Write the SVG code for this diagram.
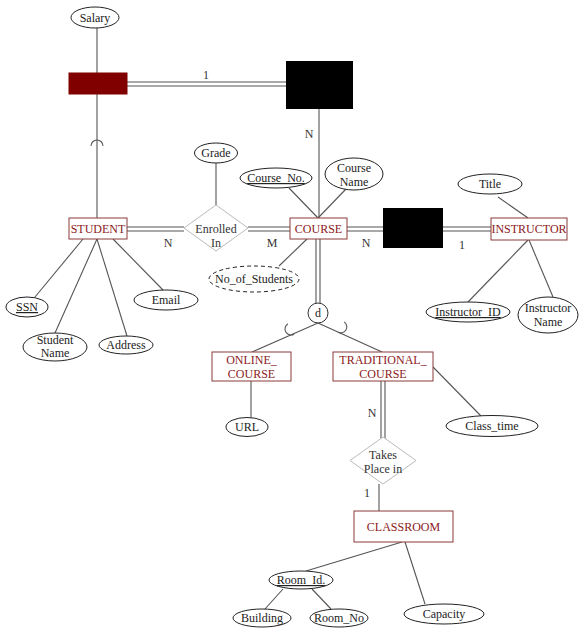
<svg xmlns="http://www.w3.org/2000/svg" width="587" height="634" viewBox="0 0 587 634">
<style>
text{font-family:"Liberation Serif","Times New Roman",serif;font-size:12px;text-anchor:middle}
.ent rect{fill:#fff;stroke:#8b3a3a;stroke-width:1}
.ent text{fill:#8b1a1a}
.att ellipse{fill:#fff;stroke:#222;stroke-width:1}
.att text{fill:#222}
.rel polygon{fill:#fff;stroke:#bbb;stroke-width:1}
.rel text{fill:#333}
.u{text-decoration:underline}
#connectors line,#connectors path{stroke:#555;stroke-width:1.1;fill:none}
.lbl{fill:#333}
</style>
<g id="connectors">
<line x1="97" y1="28" x2="97" y2="73"/>
<line x1="97" y1="94" x2="97" y2="218"/>
<path d="M91,146 A6,6 0 0 1 103,146"/>
<line x1="127" y1="82" x2="286" y2="82"/>
<line x1="127" y1="86" x2="286" y2="86"/>
<line x1="319" y1="109" x2="319" y2="218"/>
<line x1="216" y1="163" x2="216" y2="205"/>
<line x1="127" y1="227" x2="184" y2="227"/>
<line x1="127" y1="231" x2="184" y2="231"/>
<line x1="248" y1="227" x2="290" y2="227"/>
<line x1="248" y1="231" x2="290" y2="231"/>
<line x1="289" y1="188" x2="318" y2="218"/>
<line x1="346" y1="189" x2="318" y2="218"/>
<line x1="307" y1="239" x2="279" y2="266"/>
<line x1="347" y1="227" x2="383" y2="227"/>
<line x1="347" y1="231" x2="383" y2="231"/>
<line x1="443" y1="227" x2="491" y2="227"/>
<line x1="443" y1="231" x2="491" y2="231"/>
<line x1="498" y1="197" x2="528" y2="218"/>
<line x1="528" y1="240" x2="468" y2="302"/>
<line x1="529" y1="240" x2="553" y2="297"/>
<line x1="83" y1="239" x2="35" y2="297"/>
<line x1="97" y1="239" x2="55" y2="333"/>
<line x1="97" y1="239" x2="127" y2="336"/>
<line x1="113" y1="239" x2="163" y2="290"/>
<line x1="316" y1="239" x2="316" y2="304"/>
<line x1="320" y1="239" x2="320" y2="304"/>
<line x1="318" y1="323" x2="252" y2="352"/>
<line x1="318" y1="323" x2="382" y2="352"/>
<path d="M294.05,334.17 A6,6 0 0 1 287.95,323.83"/>
<path d="M337.88,332.12 A6,6 0 0 0 344.12,321.88"/>
<line x1="251" y1="381" x2="251" y2="418"/>
<line x1="433" y1="367" x2="481" y2="416"/>
<line x1="381" y1="381" x2="381" y2="439"/>
<line x1="385" y1="381" x2="385" y2="441"/>
<line x1="379" y1="484" x2="379" y2="511"/>
<line x1="402" y1="542" x2="306" y2="571"/>
<line x1="405" y1="542" x2="425" y2="604"/>
<line x1="283" y1="589" x2="265" y2="609"/>
<line x1="312" y1="589" x2="331" y2="609"/>
<text class="lbl" x="206" y="79">1</text>
<text class="lbl" x="309" y="138">N</text>
<text class="lbl" x="168" y="247">N</text>
<text class="lbl" x="272" y="247">M</text>
<text class="lbl" x="366" y="247">N</text>
<text class="lbl" x="462" y="249">1</text>
<text class="lbl" x="372" y="417">N</text>
<text class="lbl" x="367" y="497">1</text>
</g>
<g id="salary_rel"><rect x="69" y="73" width="58" height="21" fill="#800000" stroke="#800000"/></g>
<g id="black_rel1"><rect x="286" y="61" width="67" height="48" fill="#000"/></g>
<g id="black_rel2"><rect x="383" y="208" width="60" height="40" fill="#000"/></g>
<g id="salary" class="att"><ellipse cx="95" cy="17.5" rx="24" ry="10.5"/><text x="95" y="21.5">Salary</text></g>
<g id="grade" class="att"><ellipse cx="216" cy="153" rx="21.5" ry="10"/><text x="216" y="157">Grade</text></g>
<g id="course_no" class="att"><ellipse cx="276" cy="178" rx="36" ry="10"/><text class="u" x="276" y="182">Course_No.</text></g>
<g id="course_name" class="att"><ellipse cx="354" cy="174" rx="29" ry="16"/><text x="354" y="172">Course</text><text x="354" y="186">Name</text></g>
<g id="title" class="att"><ellipse cx="490" cy="184" rx="32" ry="10"/><text x="490" y="188">Title</text></g>
<g id="student" class="ent"><rect x="69" y="218" width="58" height="21"/><text x="98" y="233">STUDENT</text></g>
<g id="enrolled_in" class="rel"><polygon points="216,205 248,228 216,251 184,228"/><text x="216" y="233">Enrolled</text><text x="216" y="247">In</text></g>
<g id="course" class="ent"><rect x="290" y="218" width="57" height="21"/><text x="318.5" y="233">COURSE</text></g>
<g id="instructor" class="ent"><rect x="491" y="218" width="76" height="22"/><text x="529" y="233">INSTRUCTOR</text></g>
<g id="no_of_students" class="att"><ellipse cx="254" cy="279" rx="45" ry="13" stroke-dasharray="4,3"/><text x="254" y="283">No_of_Students</text></g>
<g id="ssn" class="att"><ellipse cx="27" cy="307" rx="21" ry="10"/><text class="u" x="27" y="311">SSN</text></g>
<g id="email" class="att"><ellipse cx="166" cy="300" rx="32" ry="10"/><text x="166" y="304">Email</text></g>
<g id="student_name" class="att"><ellipse cx="55" cy="347" rx="32" ry="14"/><text x="55" y="344">Student</text><text x="55" y="357">Name</text></g>
<g id="address" class="att"><ellipse cx="126" cy="345" rx="27" ry="9"/><text x="126" y="349">Address</text></g>
<g id="instructor_id" class="att"><ellipse cx="468" cy="312" rx="42" ry="10"/><text class="u" x="468" y="316">Instructor_ID</text></g>
<g id="instructor_name" class="att"><ellipse cx="548" cy="315" rx="30" ry="18"/><text x="548" y="312">Instructor</text><text x="548" y="326">Name</text></g>
<g id="disjoint"><circle cx="318" cy="313" r="10" fill="#fff" stroke="#333"/><text x="318" y="317" fill="#222">d</text></g>
<g id="online_course" class="ent"><rect x="212" y="352" width="79" height="29"/><text x="251.5" y="364">ONLINE_</text><text x="251.5" y="378">COURSE</text></g>
<g id="traditional_course" class="ent"><rect x="333" y="352" width="100" height="29"/><text x="383" y="364">TRADITIONAL_</text><text x="383" y="378">COURSE</text></g>
<g id="url" class="att"><ellipse cx="247" cy="427" rx="21" ry="9.5"/><text x="247" y="431">URL</text></g>
<g id="class_time" class="att"><ellipse cx="492" cy="426" rx="46" ry="10.5"/><text x="492" y="430">Class_time</text></g>
<g id="takes_place_in" class="rel"><polygon points="383,437 416,460.5 383,484 350,460.5"/><text x="383" y="459">Takes</text><text x="383" y="473">Place in</text></g>
<g id="classroom" class="ent"><rect x="354" y="511" width="99" height="31"/><text x="403.5" y="531">CLASSROOM</text></g>
<g id="room_id" class="att"><ellipse cx="301" cy="580" rx="32" ry="9"/><text class="u" x="301" y="584">Room_Id.</text></g>
<g id="capacity" class="att"><ellipse cx="444" cy="614" rx="40" ry="10"/><text x="444" y="618">Capacity</text></g>
<g id="building" class="att"><ellipse cx="262" cy="618" rx="29" ry="9"/><text x="262" y="622">Building</text></g>
<g id="room_no" class="att"><ellipse cx="339" cy="618" rx="29" ry="9"/><text x="339" y="622">Room_No</text></g>
</svg>
